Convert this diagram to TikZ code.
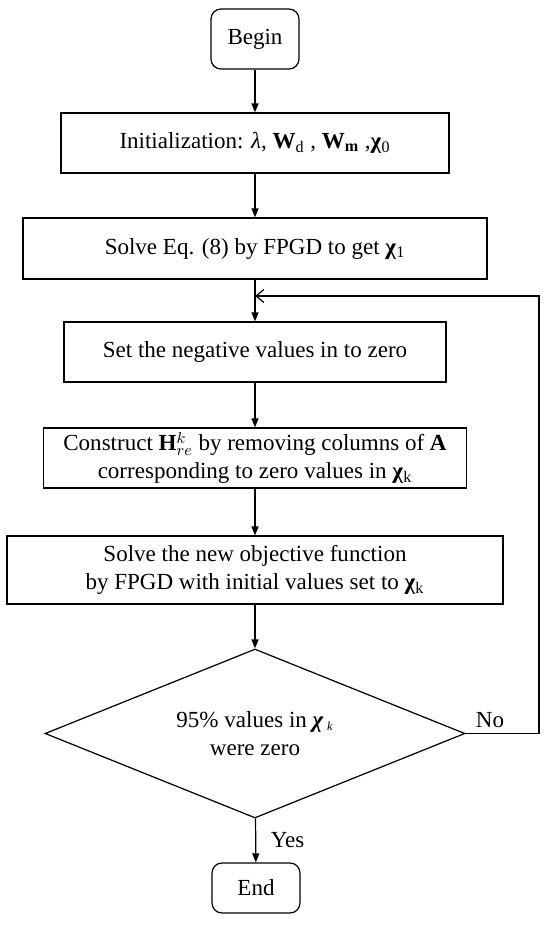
\documentclass[tikz,border=0pt]{standalone}
\usepackage{fontspec}
\setmainfont{Liberation Serif}
\usepackage{tikz}
\usetikzlibrary{shapes.geometric,arrows.meta}
\tikzset{
every node/.style={draw, inner sep=0pt, align=center, font=\fontsize{13.1}{16}\selectfont},
every label/.style={rectangle, draw=none},
box/.style={rectangle, minimum height=1.2cm},
term/.style={rectangle, rounded corners=0.2cm, minimum width=1.76cm},
decide/.style={diamond, aspect=2.5, minimum width=8.4cm, minimum height=3.38cm},
flow/.style={-{Triangle[length=1.8mm,width=1.4mm]}},
back/.style={-{Straight Barb[length=1.6mm,width=2.6mm]}}
}

\begin{document}
\begin{tikzpicture}[line width=0.7pt]
\useasboundingbox (0,0) rectangle (11,-18.5);

\node[term, minimum height=1.2cm] (begin) at (5.1,-0.78) {Begin};
\node[box, minimum width=7.76cm] (init) at (5.1,-2.86) {Initialization: \textit{λ}, \textbf{W}\textsubscript{d} , \textbf{W}\textsubscript{\textbf{m}} ,\textbf{χ}\textsubscript{0}};
\node[box, minimum width=9.28cm, minimum height=1.22cm] (solve) at (5.1,-4.97) {Solve Eq. (8) by FPGD to get \textbf{χ}\textsubscript{1}};
\node[box, minimum width=7.64cm] (neg) at (5.1,-7.04) {Set the negative values in to zero};
\node[box, minimum width=8.46cm] (cons) at (5.1,-9.16) {Construct \textbf{H}$^{k}_{re}$ by removing columns of \textbf{A}\\corresponding to zero values in \textbf{χ}\textsubscript{k}};
\node[box, minimum width=9.92cm, minimum height=1.36cm] (obj) at (5.1,-11.4) {Solve the new objective function\\by FPGD with initial values set to \textbf{χ}\textsubscript{k}};
\node[decide] (check) at (5.1,-14.67) {95\% values in {\bfseries\itshape χ}\,\textsubscript{\scriptsize\itshape k}\\were zero};
\node[term, minimum height=1.0cm] (end) at (5.12,-17.76) {End};

\coordinate (loop) at (10.78,-5.92);
\coordinate (join) at (5.1,-5.92);

\draw[flow] (begin) -- (init);
\draw[flow] (init) -- (solve);
\draw[flow] (solve) -- (neg);
\draw[flow] (neg) -- (cons);
\draw[flow] (cons) -- (obj);
\draw[flow] (obj) -- (check);
\draw[flow] (check) -- (end);
\draw[back] (check.east) -| (loop) -- (join);

\node[draw=none] (no) at (9.8,-14.4) {No};
\node[draw=none] (yes) at (5.75,-16.8) {Yes};

\end{tikzpicture}
\end{document}
